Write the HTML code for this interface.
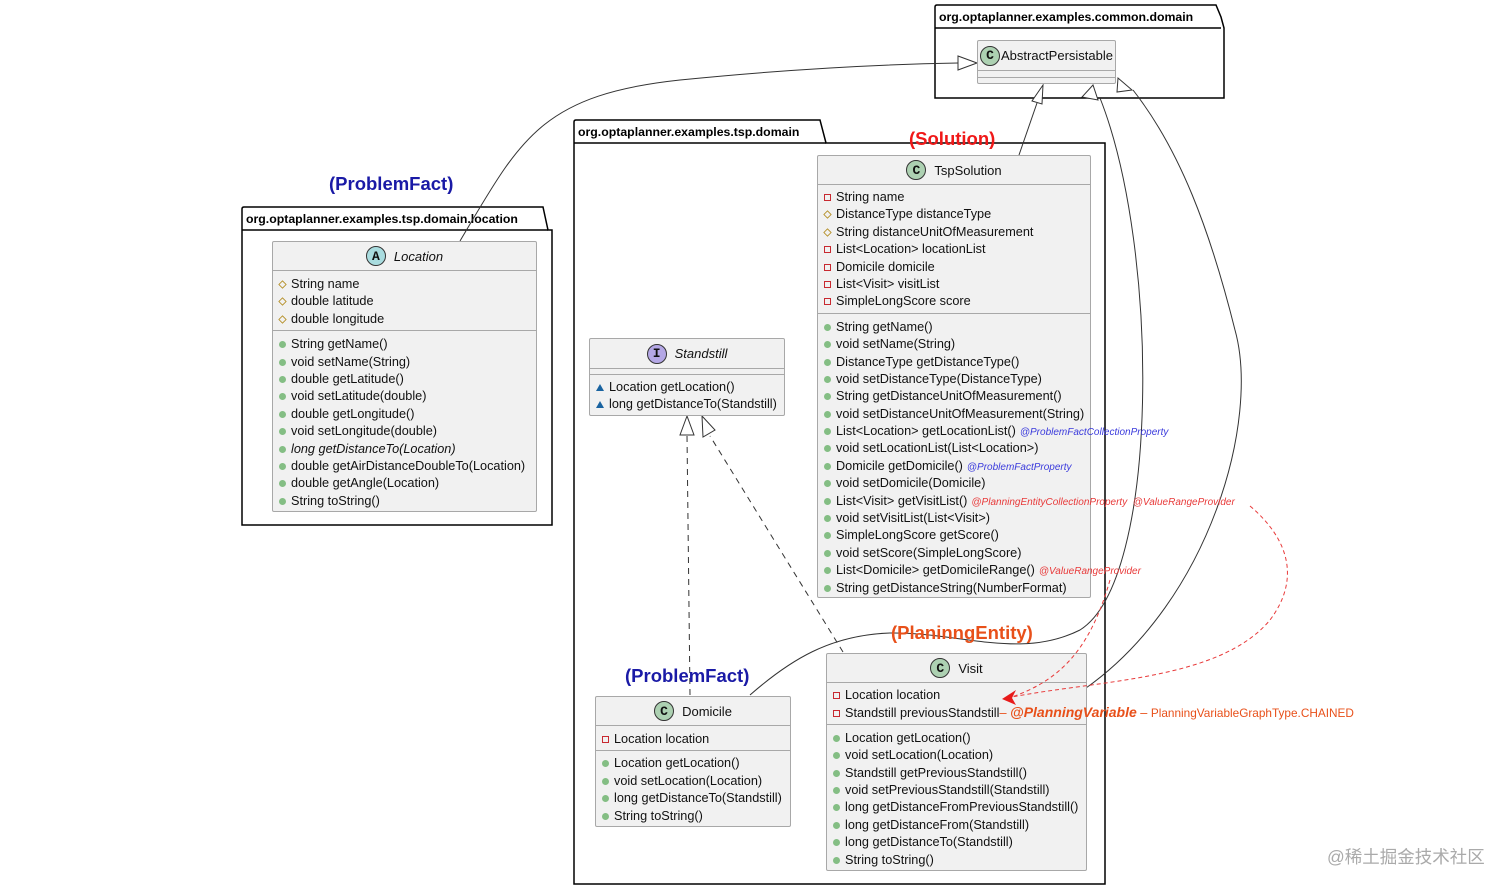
<!DOCTYPE html>
<html><head><meta charset="utf-8"><style>
body{margin:0;width:1512px;height:890px;background:#fff;position:relative;overflow:hidden;font-family:"Liberation Sans",sans-serif;}
svg{position:absolute;left:0;top:0}
.box{position:absolute;background:#f1f1f1;border:1px solid #a8a8a8;border-radius:2px;box-sizing:border-box;font-size:12.7px;color:#111}
.hd{position:relative;display:flex;align-items:center;justify-content:center;font-size:13px;border-bottom:1px solid #a8a8a8;box-sizing:border-box}
.ic{width:20px;height:20px;border-radius:50%;border:1px solid #333;display:inline-flex;align-items:center;justify-content:center;font-size:13px;font-weight:bold;margin-right:8px;box-sizing:border-box;font-family:"Liberation Mono",monospace}
.cp{border-bottom:1px solid #a8a8a8;box-sizing:border-box}
.cp:last-child{border-bottom:none}
.r{height:17.4px;line-height:17.4px;white-space:nowrap;padding-left:6px;position:relative}
.r i.m{display:inline-block;width:7px;height:7px;margin-right:5px;vertical-align:0px;box-sizing:border-box}
.pv{border:1.3px solid #c82930}
.pt{border:1.3px solid #b38d22;transform:rotate(45deg) scale(.85)}
.pb{background:#84be84;border-radius:50%}
.pk{width:0!important;height:0!important;border-left:4.5px solid transparent;border-right:4.5px solid transparent;border-bottom:7px solid #1963a0}
.ab{font-style:italic;font-size:10px;color:#3a3adc;margin-left:4px}
.rd{font-style:italic;font-size:10px;color:#e83a3a;margin-left:4px}
.lbl{position:absolute;font-weight:bold;font-size:18.5px;white-space:nowrap}
</style></head><body>
<svg width="1512" height="890">
<g fill="#fff" stroke="#000" stroke-width="1.5">
<path d="M935,28 V7 Q935,5 937,5 H1216 L1221,17 L1224,28 V98 H935 Z"/>
<line x1="935" y1="28" x2="1221" y2="28"/>
<path d="M574,143 V122 Q574,120 576,120 H820 L826,143 H1105 V884 H574 Z"/>
<line x1="574" y1="143" x2="826" y2="143"/>
<path d="M242,230 V209 Q242,207 244,207 H543 L548,230 H552 V525 H242 Z"/>
<line x1="242" y1="230" x2="548" y2="230"/>
</g>
<g font-family="Liberation Sans,sans-serif" font-weight="bold" font-size="12.3" fill="#000">
<text x="939" y="21">org.optaplanner.examples.common.domain</text>
<text x="578" y="136">org.optaplanner.examples.tsp.domain</text>
<text x="246" y="223">org.optaplanner.examples.tsp.domain.location</text>
</g>
<g fill="none" stroke="#333" stroke-width="1">
<path d="M460,241 C520,140 540,95 680,80 C800,68 900,64 958,63"/>
<path d="M1019,155 L1037,103"/>
<path d="M750,695 C790,660 830,635 890,633 C960,632 1020,660 1080,630 C1160,580 1160,250 1100,98"/>
<path d="M1086,688 C1210,600 1260,420 1235,330 C1210,230 1180,150 1133,90"/>
</g>
<g fill="#fff" stroke="#333" stroke-width="1">
<polygon points="977,63 958,56 958,70"/>
<polygon points="1043,85 1032,101 1042,104"/>
<polygon points="1093,85 1082,97 1098,100" />
<polygon points="1118,78 1117,92 1132,90"/>
</g>
<g fill="none" stroke="#333" stroke-width="1" stroke-dasharray="6,5">
<path d="M690,695 L687,435"/>
<path d="M843,652 L710,436"/>
</g>
<g fill="#fff" stroke="#333" stroke-width="1">
<polygon points="687,416 680,435 694,435"/>
<polygon points="702,416 703,437 715,430"/>
</g>
</svg>

<div class="lbl" style="left:329px;top:173px;color:#1a1aa6">(ProblemFact)</div>
<div class="lbl" style="left:909px;top:128px;color:#f01818">(Solution)</div>
<div class="lbl" style="left:891px;top:622px;color:#e8501a">(PlaninngEntity)</div>
<div class="lbl" style="left:625px;top:665px;color:#1a1aa6">(ProblemFact)</div>

<div class="box" style="left:977px;top:40px;width:139px;height:44px">
<div class="hd" style="height:30px"><span class="ic" style="background:#add1b2">C</span><span style="margin-left:-7px">AbstractPersistable</span></div>
<div class="cp" style="height:7px"></div><div class="cp" style="height:6px"></div>
</div>

<div class="box" style="left:272px;top:241px;width:265px;height:271px">
<div class="hd" style="height:29px"><span class="ic" style="background:#a9dcdf">A</span><i>Location</i></div>
<div class="cp" style="padding:5px 0 2px">
<div class="r"><i class="m pt"></i>String name</div>
<div class="r"><i class="m pt"></i>double latitude</div>
<div class="r"><i class="m pt"></i>double longitude</div></div>
<div class="cp" style="padding:5px 0 2px">
<div class="r"><i class="m pb"></i>String getName()</div>
<div class="r"><i class="m pb"></i>void setName(String)</div>
<div class="r"><i class="m pb"></i>double getLatitude()</div>
<div class="r"><i class="m pb"></i>void setLatitude(double)</div>
<div class="r"><i class="m pb"></i>double getLongitude()</div>
<div class="r"><i class="m pb"></i>void setLongitude(double)</div>
<div class="r"><i class="m pb"></i><i>long getDistanceTo(Location)</i></div>
<div class="r"><i class="m pb"></i>double getAirDistanceDoubleTo(Location)</div>
<div class="r"><i class="m pb"></i>double getAngle(Location)</div>
<div class="r"><i class="m pb"></i>String toString()</div></div>
</div>

<div class="box" style="left:817px;top:155px;width:274px;height:443px">
<div class="hd" style="height:29px"><span class="ic" style="background:#add1b2">C</span>TspSolution</div>
<div class="cp" style="padding:4px 0 2px">
<div class="r"><i class="m pv"></i>String name</div>
<div class="r"><i class="m pt"></i>DistanceType distanceType</div>
<div class="r"><i class="m pt"></i>String distanceUnitOfMeasurement</div>
<div class="r"><i class="m pv"></i>List&lt;Location&gt; locationList</div>
<div class="r"><i class="m pv"></i>Domicile domicile</div>
<div class="r"><i class="m pv"></i>List&lt;Visit&gt; visitList</div>
<div class="r"><i class="m pv"></i>SimpleLongScore score</div></div>
<div class="cp" style="padding:5px 0 2px">
<div class="r"><i class="m pb"></i>String getName()</div>
<div class="r"><i class="m pb"></i>void setName(String)</div>
<div class="r"><i class="m pb"></i>DistanceType getDistanceType()</div>
<div class="r"><i class="m pb"></i>void setDistanceType(DistanceType)</div>
<div class="r"><i class="m pb"></i>String getDistanceUnitOfMeasurement()</div>
<div class="r"><i class="m pb"></i>void setDistanceUnitOfMeasurement(String)</div>
<div class="r"><i class="m pb"></i>List&lt;Location&gt; getLocationList()<span class="ab">@ProblemFactCollectionProperty</span></div>
<div class="r"><i class="m pb"></i>void setLocationList(List&lt;Location&gt;)</div>
<div class="r"><i class="m pb"></i>Domicile getDomicile()<span class="ab">@ProblemFactProperty</span></div>
<div class="r"><i class="m pb"></i>void setDomicile(Domicile)</div>
<div class="r"><i class="m pb"></i>List&lt;Visit&gt; getVisitList()<span class="rd">@PlanningEntityCollectionProperty &nbsp;@ValueRangeProvider</span></div>
<div class="r"><i class="m pb"></i>void setVisitList(List&lt;Visit&gt;)</div>
<div class="r"><i class="m pb"></i>SimpleLongScore getScore()</div>
<div class="r"><i class="m pb"></i>void setScore(SimpleLongScore)</div>
<div class="r"><i class="m pb"></i>List&lt;Domicile&gt; getDomicileRange()<span class="rd">@ValueRangeProvider</span></div>
<div class="r"><i class="m pb"></i>String getDistanceString(NumberFormat)</div></div>
</div>

<div class="box" style="left:589px;top:338px;width:196px;height:78px">
<div class="hd" style="height:30px"><span class="ic" style="background:#b4a7e5">I</span><i>Standstill</i></div>
<div class="cp" style="height:6px"></div>
<div class="cp" style="padding:4px 0 2px">
<div class="r"><i class="m pk"></i>Location getLocation()</div>
<div class="r"><i class="m pk"></i>long getDistanceTo(Standstill)</div></div>
</div>

<div class="box" style="left:595px;top:696px;width:196px;height:131px">
<div class="hd" style="height:29px"><span class="ic" style="background:#add1b2">C</span>Domicile</div>
<div class="cp" style="padding:5px 0 2px">
<div class="r"><i class="m pv"></i>Location location</div></div>
<div class="cp" style="padding:4px 0 2px">
<div class="r"><i class="m pb"></i>Location getLocation()</div>
<div class="r"><i class="m pb"></i>void setLocation(Location)</div>
<div class="r"><i class="m pb"></i>long getDistanceTo(Standstill)</div>
<div class="r"><i class="m pb"></i>String toString()</div></div>
</div>

<div class="box" style="left:826px;top:653px;width:261px;height:218px">
<div class="hd" style="height:29px"><span class="ic" style="background:#add1b2">C</span>Visit</div>
<div class="cp" style="padding:4px 0 2px">
<div class="r"><i class="m pv"></i>Location location</div>
<div class="r"><i class="m pv"></i>Standstill previousStandstill<span style="color:#e8501a">– <b style="font-style:italic;font-size:14px">@PlanningVariable</b> – <span style="font-size:11.8px">PlanningVariableGraphType.CHAINED</span></span></div></div>
<div class="cp" style="padding:5px 0 2px">
<div class="r"><i class="m pb"></i>Location getLocation()</div>
<div class="r"><i class="m pb"></i>void setLocation(Location)</div>
<div class="r"><i class="m pb"></i>Standstill getPreviousStandstill()</div>
<div class="r"><i class="m pb"></i>void setPreviousStandstill(Standstill)</div>
<div class="r"><i class="m pb"></i>long getDistanceFromPreviousStandstill()</div>
<div class="r"><i class="m pb"></i>long getDistanceFrom(Standstill)</div>
<div class="r"><i class="m pb"></i>long getDistanceTo(Standstill)</div>
<div class="r"><i class="m pb"></i>String toString()</div></div>
</div>

<svg width="1512" height="890" style="pointer-events:none">
<g fill="none" stroke="#e83a3a" stroke-width="1" stroke-dasharray="4,3">
<path d="M1250,506 C1290,540 1300,580 1270,620 C1220,680 1100,680 1012,697"/>
<path d="M1110,580 C1090,650 1060,680 1012,697"/>
</g>
<polygon points="1002,699 1016,690 1012,698 1016,705" fill="#e81a1a"/>
</svg>

<div style="position:absolute;left:1327px;top:844px;font-size:17.5px;color:#aaa;font-family:'Liberation Sans','Noto Sans CJK SC',sans-serif">@稀土掘金技术社区</div>
</body></html>
